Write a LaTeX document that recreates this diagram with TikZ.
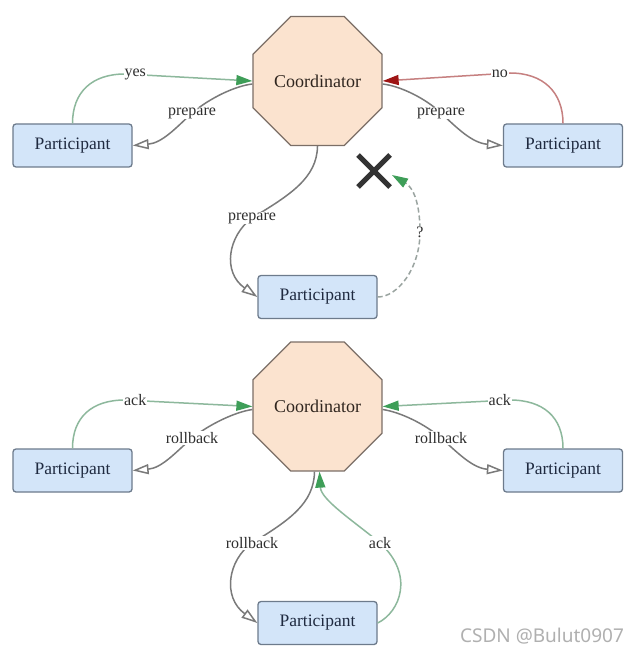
\documentclass[tikz,border=0pt]{standalone}
\usepackage{fontspec}
\setmainfont{Liberation Serif}
\newfontfamily\wmfont{Noto Sans}
\usetikzlibrary{shapes.geometric,shapes.misc,arrows.meta}
\definecolor{octfill}{HTML}{FBE3CF}
\definecolor{octline}{HTML}{7B6E66}
\definecolor{boxfill}{HTML}{D3E5F9}
\definecolor{boxline}{HTML}{6D7B8C}
\definecolor{navytext}{HTML}{1F2A40}
\definecolor{darktext}{HTML}{30261F}
\definecolor{lbltext}{HTML}{2E2E2E}
\definecolor{edgegray}{HTML}{7A7A7A}
\definecolor{okline}{HTML}{8DB89C}
\definecolor{okarrow}{HTML}{3E9E58}
\definecolor{failline}{HTML}{C68080}
\definecolor{failarrow}{HTML}{9E1515}
\definecolor{dashgray}{HTML}{9AA4A0}
\definecolor{xcol}{HTML}{333333}
\definecolor{wmcol}{HTML}{B0B0B0}
\begin{document}
\begin{tikzpicture}[x=1pt,y=-1pt,
  coord/.style={regular polygon, regular polygon sides=8, minimum size=139.6pt,
    inner sep=0pt, draw=octline, fill=octfill, line width=1.3pt,
    font=\rmfamily\fontsize{18}{20}\selectfont, text=darktext},
  part/.style={rectangle, rounded corners=3pt, draw=boxline, fill=boxfill,
    line width=1.3pt, minimum width=119pt, minimum height=43pt, inner sep=0pt,
    font=\rmfamily\fontsize{17.5}{20}\selectfont, text=navytext},
  lbl/.style={fill=white, inner sep=1pt, font=\rmfamily\fontsize{16}{18}\selectfont, text=lbltext},
  reqedge/.style={draw=edgegray, line width=1.5pt,
    -{Triangle[open, length=16pt, width=10pt, fill=white]}},
  okedge/.style={draw=okline, line width=1.5pt,
    -{Triangle[length=16pt, width=10pt, color=okarrow]}},
  failedge/.style={draw=failline, line width=1.5pt,
    -{Triangle[length=16pt, width=10pt, color=failarrow]}},
  qedge/.style={draw=dashgray, line width=1.5pt, dash pattern=on 5pt off 3pt,
    -{Triangle[length=16pt, width=10pt, color=okarrow]}},
  xmark/.style={cross out, draw=xcol, line width=5pt, minimum size=27pt, inner sep=0pt},
  wm/.style={font=\wmfont\fontsize{19}{21}\selectfont, text=wmcol}
]
\useasboundingbox (0,0) rectangle (640,655);
\fill[white] (0,0) rectangle (640,655);

% nodes
\node[coord] (C1) at (317.5,81) {Coordinator};
\node[part] (P1) at (72.5,145.5) {Participant};
\node[part] (P2) at (563,145.5) {Participant};
\node[part] (P3) at (317.5,297) {Participant};
\node[coord] (C2) at (317.5,406.5) {Coordinator};
\node[part] (P4) at (72.5,470.5) {Participant};
\node[part] (P5) at (563,470.5) {Participant};
\node[part] (P6) at (317.5,623) {Participant};
\node[xmark] (X) at (374,171) {};
\coordinate (Q) at (392,175);
\node[wm] (W) at (542,636) {CSDN @Bulut0907};

% top phase
\draw[okedge] (P1.north) .. controls (72.5,92) and (92,74) .. (125,74)
  -- node[lbl,pos=0.08]{yes} (C1.west);
\draw[reqedge] ([yshift=-3pt]C1.west) .. controls (235,86) and (210,98) .. (192,113)
  node[lbl]{prepare} .. controls (176,128) and (162,143) .. (P1.east);
\draw[failedge] (P2.north) .. controls (563,92) and (543,73) .. (510,73)
  -- node[lbl,pos=0.08]{no} (C1.east);
\draw[reqedge] ([yshift=-3pt]C1.east) .. controls (400,86) and (425,98) .. (441,113)
  node[lbl]{prepare} .. controls (457,128) and (472,143) .. (P2.west);
\draw[reqedge] (C1.south) .. controls (317,178) and (290,195) .. (252,218)
  node[lbl]{prepare} .. controls (228,236) and (222,272) .. (P3.west);
\draw[qedge] (P3.east) .. controls (398,297) and (420,268) .. (420,232)
  node[lbl]{?} .. controls (420,205) and (414,188) .. (Q);

% bottom phase
\draw[okedge] (P4.north) .. controls (72.5,417) and (92,400) .. (125,400)
  -- node[lbl,pos=0.08]{ack} (C2.west);
\draw[reqedge] ([yshift=-3pt]C2.west) .. controls (235,412) and (210,424) .. (192,438)
  node[lbl]{rollback} .. controls (176,452) and (162,468) .. (P4.east);
\draw[okedge] (P5.north) .. controls (563,417) and (543,400) .. (510,400)
  -- node[lbl,pos=0.08]{ack} (C2.east);
\draw[reqedge] ([yshift=-3pt]C2.east) .. controls (400,412) and (425,424) .. (441,438)
  node[lbl]{rollback} .. controls (457,452) and (472,468) .. (P5.west);
\draw[reqedge] ([xshift=-3pt]C2.south) .. controls (314,503) and (290,520) .. (252,543)
  node[lbl]{rollback} .. controls (228,560) and (222,597) .. (P6.west);
\draw[okedge] (P6.east) .. controls (400,612) and (415,575) .. (380,543)
  node[lbl]{ack} .. controls (355,522) and (321,500) .. ([xshift=2pt]C2.south);
\end{tikzpicture}
\end{document}
